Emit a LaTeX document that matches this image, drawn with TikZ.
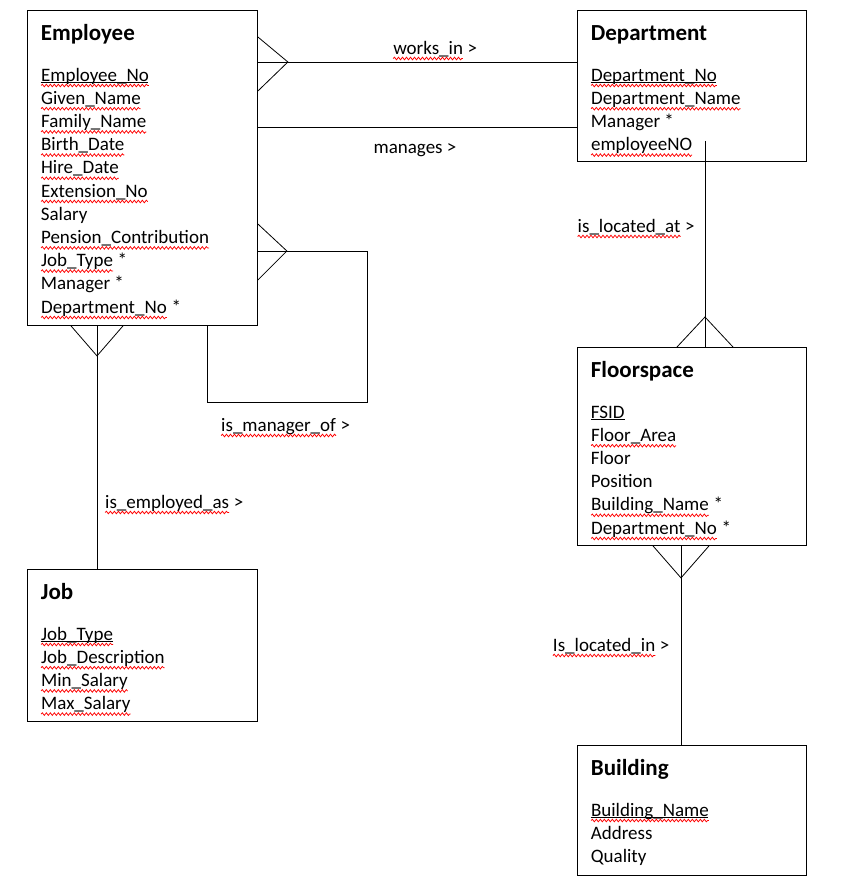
\documentclass[tikz,border=0pt]{standalone}
\usepackage{fontspec}
\setmainfont{Carlito}
\usetikzlibrary{decorations.pathmorphing}
% red wavy underline, black key underline
\newcommand\sqw[1]{\tikz[baseline=(w.base)]{\node[anchor=base west, inner sep=0pt, outer sep=0pt] (w) {#1};
  \draw[red, line width=0.75pt, decorate, decoration={snake, amplitude=1.3pt, segment length=4pt}]
    ([yshift=-4.5pt]w.base west) -- ([yshift=-4.5pt]w.base east);}}
\newlength\keywd
\newcommand\pk[1]{\settowidth\keywd{#1}\rlap{\rule[-2pt]{\keywd}{0.8pt}}#1}
\newcommand\pkw[1]{\settowidth\keywd{#1}\rlap{\rule[-2pt]{\keywd}{0.8pt}}\sqw{#1}}
\newcommand\entattrs[2]{%
  \foreach \a [count=\i from 0] in {#2}
    \node[attr] (#1-\i) at ([xshift=13.5pt, yshift={-71pt-23.2pt*\i}]#1.north west) {\a};}

\begin{document}
\begin{tikzpicture}[x=1pt, y=-1pt, line width=0.8pt,
  entity/.style={draw, line width=0.9pt, anchor=north west, inner sep=0pt},
  title/.style={anchor=base west, inner sep=0pt, font=\fontsize{23}{28}\selectfont\bfseries},
  attr/.style={anchor=base west, inner sep=0pt, font=\fontsize{19}{23}\selectfont},
  rel/.style={anchor=base, inner sep=0pt, font=\fontsize{19}{23}\selectfont}]

\useasboundingbox (0,0) rectangle (864,876);

% entities
\node[entity, minimum width=230pt, minimum height=315pt] (emp) at (27,10) {};
\node[entity, minimum width=229pt, minimum height=151pt] (dept) at (577,10) {};
\node[entity, minimum width=229pt, minimum height=198pt] (floor) at (577,347) {};
\node[entity, minimum width=230pt, minimum height=152pt] (job) at (27,569) {};
\node[entity, minimum width=229pt, minimum height=130pt] (bldg) at (577,745) {};

\node[title] (emp-t) at ([xshift=13.5pt, yshift=-30pt]emp.north west) {Employee};
\node[title] (dept-t) at ([xshift=13.5pt, yshift=-30pt]dept.north west) {Department};
\node[title] (floor-t) at ([xshift=13.5pt, yshift=-30pt]floor.north west) {Floorspace};
\node[title] (job-t) at ([xshift=13.5pt, yshift=-30pt]job.north west) {Job};
\node[title] (bldg-t) at ([xshift=13.5pt, yshift=-30pt]bldg.north west) {Building};

\entattrs{emp}{{\pkw{Employee\_No}}, {\sqw{Given\_Name}}, {\sqw{Family\_Name}},
  {\sqw{Birth\_Date}}, {\sqw{Hire\_Date}}, {\sqw{Extension\_No}}, Salary,
  {\sqw{Pension\_Contribution}}, {\sqw{Job\_Type} *}, Manager *, {\sqw{Department\_No} *}}
\entattrs{dept}{{\pkw{Department\_No}}, {\sqw{Department\_Name}}, Manager *, {\sqw{employeeNO}}}
\entattrs{floor}{{\pk{FSID}}, {\sqw{Floor\_Area}}, Floor, Position,
  {\sqw{Building\_Name} *}, {\sqw{Department\_No} *}}
\entattrs{job}{{\pkw{Job\_Type}}, {\sqw{Job\_Description}}, {\sqw{Min\_Salary}}, {\sqw{Max\_Salary}}}
\entattrs{bldg}{{\pkw{Building\_Name}}, Address, Quality}

% works_in
\draw ([yshift=-52pt]emp.north east) -- ([yshift=-52pt]dept.north west);
\draw ([yshift=-27pt]emp.north east) -- ++(30,25) -- ++(-30,29);
\node[rel] (l-works) at (435,54) {\sqw{works\_in} >};

% manages
\draw ([yshift=-117pt]emp.north east) -- ([yshift=-117pt]dept.north west);
\node[rel] (l-manages) at (415,153) {manages >};

% is_manager_of
\draw ([yshift=-241pt]emp.north east) -- ++(109,0) -- ++(0,151) -| ([xshift=180pt]emp.south west);
\draw ([yshift=-214pt]emp.north east) -- ++(29,27) -- ++(-29,29);
\node[rel] (l-mgr) at (285.5,431) {\sqw{is\_manager\_of} >};

% is_employed_as
\draw ([xshift=70pt]emp.south west) -- ([xshift=70pt]job.north west);
\draw ([xshift=44pt]emp.south west) -- ++(26,30) -- ++(26,-30);
\node[rel] (l-empl) at (174,508) {\sqw{is\_employed\_as} >};

% is_located_at
\draw ([xshift=128pt, yshift=21pt]dept.south west) -- ([xshift=128pt]floor.north west);
\draw ([xshift=100pt]floor.north west) -- ++(28,-30) -- ++(28,30);
\node[rel] (l-locat) at (636,232) {\sqw{is\_located\_at} >};

% Is_located_in
\draw ([xshift=104pt]floor.south west) -- ([xshift=104pt]bldg.north west);
\draw ([xshift=76pt]floor.south west) -- ++(28,32) -- ++(28,-32);
\node[rel] (l-locin) at (611,651) {\sqw{Is\_located\_in} >};

\end{tikzpicture}
\end{document}
